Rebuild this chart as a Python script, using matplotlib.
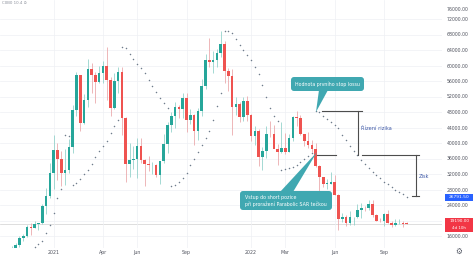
from datetime import datetime
import numpy as np
import pandas as pd
import matplotlib
matplotlib.use("Agg")
import matplotlib.pyplot as plt
import matplotlib.dates as mdates
import matplotlib.transforms as mtransforms
from matplotlib.patches import FancyBboxPatch, Polygon, Rectangle

W, H = 474, 258

# weekly BTC/USD candles, first week starting 2020-10-19
opens = [11500, 13030, 13780, 15480, 15960, 18400, 18180, 19150, 19270, 23800, 26270,
         32190, 38150, 36000, 32260, 33100, 38900, 48600, 57500, 45200, 51200, 59000,
         57500, 55800, 58000, 59800, 56200, 49100, 56000, 58200, 46400, 34700, 35600,
         35800, 39100, 35500, 34700, 34200, 34250, 31800, 35400, 39850, 44600, 47000,
         49300, 48800, 51700, 46000, 47300, 43200, 48200, 54700, 61500, 61000, 61300,
         63300, 65500, 58700, 57300, 49400, 50100, 46700, 50800, 47300, 41800, 43100,
         36300, 37900, 42400, 42200, 38400, 37700, 38800, 37800, 41300, 46800, 46400,
         42200, 40400, 39400, 38500, 34100, 31300, 29400, 29450, 29900, 26600, 20500,
         20800, 19300, 20800, 20800, 22600, 23300, 23200, 24300, 21500, 20000, 19800,
         21800, 19400, 18800, 19300, 19400, 19200]
highs = [13350, 14100, 15970, 16480, 18800, 19480, 19920, 19400, 24200, 28400, 34790,
         41950, 40100, 37850, 38530, 40960, 49700, 58350, 57500, 52600, 61800, 60600,
         58400, 60000, 61200, 64900, 57000, 58000, 59500, 59600, 46600, 40000, 39300,
         41300, 41300, 36000, 36600, 35100, 34600, 35400, 42400, 45300, 48100, 50500,
         49800, 52900, 52900, 48800, 47600, 49100, 56600, 62900, 67000, 63700, 64300,
         69000, 66300, 59300, 59100, 51900, 50600, 52000, 52100, 47500, 44400, 43500,
         38900, 44500, 45800, 44700, 39800, 45400, 42600, 42300, 47000, 48200, 47200,
         42400, 42900, 40800, 40000, 34300, 31300, 30600, 32400, 31700, 26900, 21900,
         21500, 22500, 21000, 24200, 24600, 23700, 25200, 25200, 21800, 20600, 21900,
         22700, 19900, 20300, 20500, 19900, 19700]
lows = [11400, 12900, 13200, 14800, 15800, 16200, 18100, 17600, 19000, 21800, 25900,
        28130, 30420, 28850, 29240, 32300, 37400, 47000, 43000, 44950, 49300, 53000,
        50400, 55500, 55400, 51000, 47000, 48800, 53000, 42000, 30000, 31100, 33400,
        31000, 34800, 28800, 32700, 32100, 31100, 29300, 34900, 37500, 42800, 43900,
        46400, 46500, 42800, 44800, 39600, 40800, 47000, 53900, 59600, 58000, 59500,
        62300, 55600, 53500, 42000, 47300, 45500, 45600, 45700, 40500, 39600, 34000,
        33000, 36200, 41600, 39500, 34300, 37500, 37200, 37600, 40500, 44300, 42000,
        39300, 38600, 37600, 33700, 25400, 28600, 28100, 29300, 26600, 17600, 19600,
        18600, 18800, 18900, 20700, 20700, 22400, 22700, 20800, 19800, 19500, 18500,
        19300, 18200, 18500, 19000, 18200, 19000]
closes = [13030, 13780, 15480, 15960, 18400, 18180, 19150, 19270, 23800, 26270, 32190,
          38150, 36000, 32260, 33100, 38900, 48600, 57500, 45200, 51200, 59000, 57500,
          55800, 58000, 59800, 56200, 49100, 56000, 58200, 46400, 34700, 35600, 35800,
          39100, 35500, 34700, 34200, 34250, 31800, 35400, 39850, 44600, 47000, 49300,
          48800, 51700, 46000, 47300, 43200, 48200, 54700, 61500, 61000, 61300, 63300,
          65500, 58700, 57300, 49400, 50100, 46700, 50800, 47300, 41800, 43100, 36300,
          37900, 42400, 42200, 38400, 37700, 38800, 37800, 41300, 46800, 46400, 42200,
          40400, 39400, 38500, 34100, 31300, 29400, 29450, 29900, 26600, 20500, 20800,
          19300, 20800, 20800, 22600, 23300, 23200, 24300, 21500, 20000, 19800, 21800,
          19400, 18800, 19300, 19400, 19200, 19190]

# Parabolic SAR dots (first week has none)
sar_values = [None,
              11400, 11400, 11583, 11877, 12431, 13135, 13950, 14666,
              16800, 18900, 21900, 25800, 28130,
              41950, 41696,
              29240, 29649, 30797, 31899, 32957, 34688, 36315, 37844, 39281, 40632,
              42574, 44360, 46003,
              64900, 64442, 63064, 61742, 60472, 59253, 58083, 56326, 54675, 53122,
              51663, 50291, 49002,
              28800, 29186, 30039, 30857, 32180,
              34300, 36000, 37700, 39500, 41300, 43200, 46000, 49500, 52800,
              69000, 69000, 68380, 66797, 65309, 63910, 62595, 61359, 59690, 57681,
              54839, 51782, 49152, 46891, 45800,
              33000, 33248, 33491, 33729, 34260, 35096, 35882, 36621, 37316,
              48200, 47910, 47010, 46145, 45315, 44519, 43754, 42185, 40710, 39323,
              38020, 36795, 35643, 34560, 33543, 32586, 31687, 30842, 30047, 29300,
              28598, 27938, 27318, 26735, 26187]

dates = pd.date_range("2020-10-19", periods=len(closes), freq="7D")

month_ticks = ["2021-01-04", "2021-04-05", "2021-06-07", "2021-09-06",
               "2022-01-03", "2022-03-07", "2022-06-06", "2022-09-05"]
month_labels = ["2021", "Apr", "Jun", "Sep", "2022", "Mar", "Jun", "Sep"]
price_ticks = [16000, 20000, 24000, 28000, 32000, 36000, 40000, 44000, 48000,
               52000, 56000, 60000, 64000, 68000, 72000]
top_tick_label = "76000.00"

stop_level = 48200
entry_level = 36900
target_level = 26300
last_price = 19190
last_price_label = "19190.00"
countdown_label = "4d 10h"
sar_label = "26791.50"

BASE = mdates.date2num(datetime(2021, 1, 1))


def px2x(px):
    return BASE + (px - 52) / 198 * 365


def px2y(py):
    return 16000 + (236 - py) / 0.003875


fig = plt.figure(figsize=(W / 100, H / 100), dpi=100)
fig.patch.set_facecolor("white")
ax = fig.add_axes([0, 10 / H, 442 / W, 248 / H])
ax.set_xlim(px2x(0), px2x(442))
ax.set_ylim(px2y(248), px2y(0))

x = mdates.date2num(dates)
o = np.array(opens, float); c = np.array(closes, float)
hi = np.array(highs, float); lo = np.array(lows, float)
sar = np.array([np.nan if v is None else v for v in sar_values], float)
up = c >= o
GREEN, RED = "#26a69a", "#ef5350"
body_col = np.where(up, GREEN, RED)
wick_col = np.where(up, "#8ccfc8", "#e9a3a6")
ax.vlines(x, lo, hi, colors=wick_col, lw=0.55, zorder=2)
ax.bar(x, np.maximum(np.abs(c - o), 150), bottom=np.minimum(o, c), width=4.8,
       color=body_col, lw=0, zorder=3)
ax.plot(x, sar, ls="none", marker="o", ms=1.1, mew=0, color="#6f7c8c", zorder=4)

ax.axhline(last_price, color="#d0d0d0", lw=0.5, zorder=1)

ax.yaxis.tick_right()
ax.set_yticks(price_ticks)
# the 20000 label sits under the red price box in the chart
ax.set_yticklabels(["" if v == 20000 else f"{v:.2f}" for v in price_ticks])
ax.set_xticks(mdates.date2num(pd.to_datetime(month_ticks)))
ax.set_xticklabels(month_labels)
ax.tick_params(axis="y", length=0, pad=3.5, labelsize=3.3, labelcolor="#50535e")
ax.tick_params(axis="x", length=0, pad=1.5, labelsize=3.4, labelcolor="#50535e")
ax.grid(True, color="#eef0f4", lw=0.5, zorder=0)
for s in ax.spines.values():
    s.set_visible(False)

# risk / profit annotation lines
LC = "#4d4d4d"
ax.plot([px2x(322), px2x(362)], [stop_level] * 2, color=LC, lw=0.8, zorder=5)
ax.plot([px2x(358)] * 2, [stop_level, entry_level], color=LC, lw=0.8, zorder=5)
ax.plot([px2x(317), px2x(336)], [entry_level] * 2, color=LC, lw=0.8, zorder=5)
ax.plot([px2x(362), px2x(419)], [entry_level] * 2, color=LC, lw=0.8, zorder=5)
ax.plot([px2x(416)] * 2, [entry_level, target_level], color=LC, lw=0.8, zorder=5)
ax.plot([px2x(412), px2x(419)], [target_level] * 2, color=LC, lw=0.8, zorder=5)

pxT = mtransforms.Affine2D().scale(1 / W, -1 / H).translate(0, 1) + fig.transFigure
TEAL = "#40a8b1"

fig.text(361 / W, 1 - 128 / H, "Řízení rizika", fontsize=3.6, color="#3b56a6",
         ha="left", va="center")
fig.text(419 / W, 1 - 176 / H, "Zisk", fontsize=3.6, color="#3b56a6",
         ha="left", va="center")

fig.add_artist(FancyBboxPatch((291, 77), 73, 14, boxstyle="round,pad=0,rounding_size=3",
                              transform=pxT, fc=TEAL, ec="none", zorder=10))
fig.add_artist(Polygon([(319, 90), (328, 90), (316, 112)], closed=True, transform=pxT,
                       fc=TEAL, ec="none", zorder=10))
fig.text(327.5 / W, 1 - 84 / H, "Hodnota prvního stop lossu", fontsize=3.4,
         color="white", ha="center", va="center", zorder=11)

fig.add_artist(FancyBboxPatch((240, 191), 92, 19, boxstyle="round,pad=0,rounding_size=3",
                              transform=pxT, fc=TEAL, ec="none", zorder=10))
fig.add_artist(Polygon([(280, 192), (293, 192), (317, 152)], closed=True, transform=pxT,
                       fc=TEAL, ec="none", zorder=10))
fig.text(245 / W, 1 - 197 / H, "Vstup do short pozice", fontsize=3.4,
         color="white", ha="left", va="center", zorder=11)
fig.text(245 / W, 1 - 204 / H, "při proražení Parabolic SAR tečkou", fontsize=3.4,
         color="white", ha="left", va="center", zorder=11)

# right-axis labels and price boxes
fig.text(447 / W, 1 - 9.5 / H, top_tick_label, fontsize=3.3, color="#50535e",
         ha="left", va="center")
fig.add_artist(Rectangle((445, 193.5), 28, 7, transform=pxT, fc="#2962ff", ec="none",
                         zorder=10))
fig.text(459 / W, 1 - 197 / H, sar_label, fontsize=3.2, color="white",
         ha="center", va="center", zorder=11)
fig.add_artist(Rectangle((445, 217.5), 28, 14, transform=pxT, fc="#f23645", ec="none",
                         zorder=10))
fig.text(459 / W, 1 - 221 / H, last_price_label, fontsize=3.1, color="white",
         ha="center", va="center", zorder=11)
fig.text(459 / W, 1 - 228 / H, countdown_label, fontsize=2.9, color="white",
         ha="center", va="center", zorder=11)
fig.text(459 / W, 1 - 251.5 / H, "⚙", fontsize=5.5, color="#555a66",
         ha="center", va="center")
fig.text(2 / W, 1 - 3 / H, "C0B0 10.4 ⊙", fontsize=2.8, color="#8a8f9a",
         ha="left", va="center")

fig.savefig("out.png", dpi=100)
